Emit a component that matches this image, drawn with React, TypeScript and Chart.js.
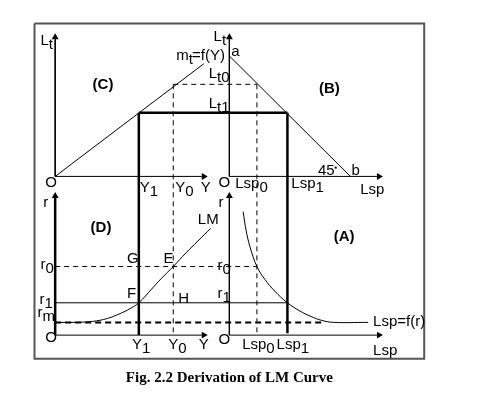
import React, { useEffect, useRef } from "react";
import { Chart, registerables } from "chart.js";
Chart.register(...registerables);

// ---- diagram geometry (diagram units: x to the right, y downward) ----
const frame = [[31, 20], [427, 20], [427, 362], [31, 362], [31, 20]];

// axes
const axisC_v = [[52, 36], [52, 176]];
const axisC_h = [[52, 176], [201, 176]];
const axisB_v = [[229, 36], [229, 176]];
const axisB_h = [[229, 176], [379, 176]];
const axisD_v = [[52, 198], [52, 338]];
const axisD_h = [[52, 338], [201, 338]];
const axisA_v = [[229, 198], [229, 338]];
const axisA_h = [[229, 338], [379, 338]];

// arrow heads: x, y, rotation (deg)
const arrowX = [52, 203, 229, 381, 52, 203, 229, 381];
const arrowY = [34, 176, 34, 176, 196, 338, 196, 338];
const arrowRot = [0, 90, 0, 90, 0, 90, 0, 90];

// curves
const mtLine = [[52, 176], [203, 61]];
const abLine = [[229, 53], [352, 176]];
const lmCurve = [
  [52, 325], [70, 325], [90, 324], [105, 321], [118, 316], [128, 311], [137, 305],
  [150, 291], [160, 280], [172, 268], [185, 254], [197, 242], [210, 229],
];
const lspCurve = [
  [243, 212], [246, 231], [250, 248], [257, 268], [265, 281], [275, 293], [288, 305],
  [300, 313], [312, 319], [323, 323], [335, 325], [370, 325],
];

// solid thick guides
const lt1Line = [[137, 111], [288, 111]];
const y1Line = [[137, 111], [137, 338]];
const lsp1Line = [[288, 111], [288, 336]];
// thin solid
const r1Line = [[52, 305], [288, 305]];
// dashed guides
const lt0Line = [[172, 82], [257, 82]];
const y0Line = [[172, 82], [172, 338]];
const lsp0Line = [[257, 82], [257, 338]];
const r0Line = [[52, 268], [257, 268]];
const rmLine = [[52, 325], [325, 325]];

// ---- labels: main text, subscript, x, baseline y ----
const labelText = [
  "L", "m", "=f(Y)", "a", "L", "L", "L", "45", "b", "O", "Y", "Y", "Y", "O", "Lsp", "Lsp", "Lsp",
  "r", "LM", "G", "E", "r", "F", "H", "r", "r", "O", "Y", "Y", "Y", "O", "r", "r", "r", "Lsp=f(r)", "Lsp", "Lsp", "Lsp",
];
const labelSub = [
  "t", "t", "", "", "t0", "t1", "t", "", "", "", "1", "0", "", "", "0", "1", "",
  "", "", "", "", "0", "", "", "1", "m", "", "1", "0", "", "", "", "0", "1", "", "0", "1", "",
];
const labelX = [
  37, 175, 191, 231, 208, 208, 213, 319, 353, 42, 138, 174, 200, 218, 235, 292, 362,
  40, 197, 125, 162, 37, 125, 177, 36, 34, 42, 130, 167, 198, 218, 218, 217, 217, 375, 242, 277, 375,
];
const labelY = [
  42, 57, 57, 53, 76, 106, 38, 175, 175, 187, 192, 192, 192, 187, 188, 188, 194,
  207, 225, 264, 264, 270, 300, 305, 306, 320, 345, 352, 352, 352, 347, 207, 272, 300, 329, 352, 352, 358,
];

const quadText = ["(C)", "(B)", "(D)", "(A)"];
const quadX = [90, 320, 88, 335];
const quadY = [87, 91, 233, 242];

const caption = "Fig. 2.2 Derivation of LM Curve";

const toPts = (a: number[][]) => a.map(([x, y]) => ({ x, y }));

function line(pts: number[][], width: number, dash: number[] = [], tension = 0) {
  return {
    type: "scatter" as const,
    data: toPts(pts),
    showLine: true,
    borderColor: "#000",
    backgroundColor: "#000",
    borderWidth: width,
    borderDash: dash,
    pointRadius: 0,
    pointHoverRadius: 0,
    tension,
    fill: false,
  };
}

const labelPlugin = {
  id: "labels",
  afterDatasetsDraw(chart: any) {
    const ctx = chart.ctx;
    const xs = chart.scales.x;
    const ys = chart.scales.y;
    ctx.save();
    ctx.fillStyle = "#000";
    ctx.textBaseline = "alphabetic";
    ctx.textAlign = "left";
    ctx.font = "15px 'Liberation Sans', Arial, sans-serif";
    for (let i = 0; i < labelText.length; i++) {
      const px = xs.getPixelForValue(labelX[i]);
      const py = ys.getPixelForValue(labelY[i]);
      ctx.fillText(labelText[i], px, py);
      if (labelSub[i]) {
        const w = ctx.measureText(labelText[i]).width;
        ctx.fillText(labelSub[i], px + w, py + 4);
      }
    }
    ctx.font = "bold 15px 'Liberation Sans', Arial, sans-serif";
    for (let i = 0; i < quadText.length; i++) {
      ctx.fillText(quadText[i], xs.getPixelForValue(quadX[i]), ys.getPixelForValue(quadY[i]));
    }
    // degree mark
    ctx.fillRect(xs.getPixelForValue(336), ys.getPixelForValue(166), 2, 2);
    ctx.font = "bold 15px 'Liberation Serif', 'Times New Roman', serif";
    ctx.textAlign = "center";
    ctx.fillText(caption, xs.getPixelForValue(229), ys.getPixelForValue(386));
    ctx.restore();
  },
};

export default function App() {
  const ref = useRef<HTMLCanvasElement | null>(null);
  useEffect(() => {
    if (!ref.current) return;
    const chart = new Chart(ref.current, {
      type: "scatter",
      data: {
        datasets: [
          { ...line(frame, 2), borderColor: "#555" },
          line(axisC_v, 1), line(axisC_h, 1),
          line(axisB_v, 1), line(axisB_h, 1),
          line(axisD_v, 2.5), line(axisD_h, 1),
          line(axisA_v, 1), line(axisA_h, 1),
          line(mtLine, 1), line(abLine, 1),
          line(lmCurve, 1, [], 0.4), line(lspCurve, 1, [], 0.4),
          line(lt1Line, 2.5), line(y1Line, 2.5), line(lsp1Line, 2.5),
          line(r1Line, 1),
          line(lt0Line, 1, [5, 4]), line(y0Line, 1, [5, 4]), line(lsp0Line, 1, [5, 4]),
          line(r0Line, 1, [5, 4]), line(rmLine, 2, [6, 4]),
          {
            type: "scatter" as const,
            data: arrowX.map((x, i) => ({ x, y: arrowY[i] })),
            pointStyle: "triangle",
            pointRadius: 4,
            pointHoverRadius: 4,
            pointRotation: arrowRot,
            backgroundColor: "#000",
            borderColor: "#000",
            borderWidth: 0,
            showLine: false,
          } as any,
        ] as any,
      },
      options: {
        animation: false,
        responsive: false,
        devicePixelRatio: 1,
        layout: { padding: 0 },
        events: [],
        plugins: { legend: { display: false }, tooltip: { enabled: false } },
        scales: {
          x: { type: "linear", min: 0, max: 503, display: false },
          y: { type: "linear", min: 0, max: 393, reverse: true, display: false },
        },
      },
      plugins: [labelPlugin],
    });
    return () => chart.destroy();
  }, []);
  return (
    <div style={{ position: "absolute", left: 0, top: 0, width: 503, height: 393, background: "#fff" }}>
      <canvas ref={ref} width={503} height={393} style={{ display: "block" }} />
    </div>
  );
}
